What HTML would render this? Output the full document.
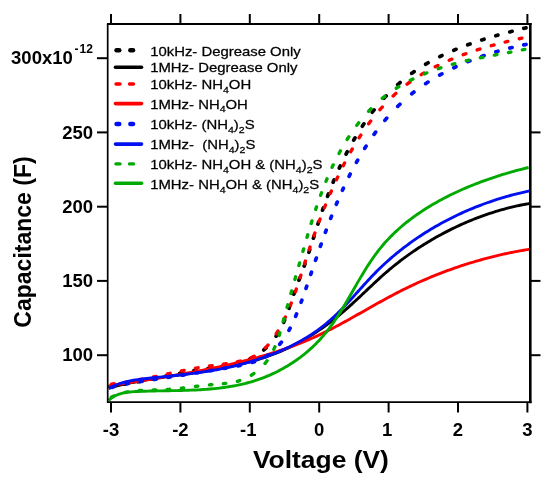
<!DOCTYPE html>
<html><head><meta charset="utf-8"><style>
html,body{margin:0;padding:0;background:#fff;}
svg{display:block;filter:blur(0.3px);}
text{font-family:"Liberation Sans",Arial,sans-serif;}
</style></head><body>
<svg width="550" height="486" viewBox="0 0 550 486">
<rect width="550" height="486" fill="#fff"/>
<g id="curves">
<path d="M109.93 386.31L110.75 386.20L111.57 386.09L112.19 386.01M123.96 384.24L124.77 384.11L125.57 383.97L126.17 383.87M137.92 381.76L138.71 381.61L139.50 381.46L140.10 381.34M151.90 378.99L152.69 378.83L153.47 378.67L154.26 378.51M165.82 376.12L166.61 375.96L167.39 375.80L168.17 375.64M179.78 373.30L180.57 373.15L181.37 373.00L182.16 372.84M193.91 370.68L194.71 370.54L195.51 370.40L196.12 370.30M207.89 368.46L208.71 368.34L209.53 368.23L210.15 368.14M221.85 366.43L222.66 366.30L223.48 366.16L224.09 366.06M235.92 363.64L236.70 363.44L237.48 363.23L238.26 363.02M249.87 358.86L250.59 358.53L251.30 358.18L252.00 357.83L252.18 357.74M263.80 349.96L264.40 349.44L264.99 348.91L265.58 348.38L266.17 347.84M276.10 336.17L276.55 335.50L276.98 334.83L277.42 334.15L277.63 333.81M283.66 322.21L283.98 321.46L284.30 320.72L284.62 319.97M289.03 308.27L289.30 307.49L289.57 306.71L289.84 305.93M293.85 294.22L294.12 293.44L294.40 292.67L294.68 291.89M298.99 280.19L299.27 279.42L299.56 278.66L299.85 277.90M304.17 266.12L304.44 265.37L304.71 264.61L304.98 263.85M308.90 252.26L309.15 251.50L309.40 250.74L309.64 249.98L309.71 249.79M313.42 238.19L313.66 237.43L313.90 236.67L314.15 235.91M317.91 224.10L318.16 223.34L318.41 222.58L318.65 221.81M322.54 210.18L322.81 209.42L323.07 208.65L323.34 207.89M327.56 196.25L327.85 195.49L328.14 194.73L328.43 193.97M333.11 182.20L333.43 181.45L333.74 180.69L334.06 179.94M339.26 168.13L339.60 167.39L339.95 166.65L340.29 165.90M346.06 154.14L346.44 153.42L346.81 152.69L347.19 151.97L347.29 151.79M353.68 140.17L354.09 139.47L354.50 138.76L354.92 138.06L355.02 137.89M362.34 126.19L362.79 125.52L363.24 124.84L363.69 124.17L363.91 123.84M372.28 112.23L372.77 111.59L373.26 110.96L373.76 110.32L374.13 109.85M383.97 98.24L384.51 97.65L385.05 97.07L385.60 96.48L386.14 95.90M397.70 84.62L398.29 84.09L398.89 83.56L399.49 83.04L400.09 82.52M411.67 73.35L412.32 72.88L412.98 72.41L413.63 71.95L414.13 71.61M425.65 64.22L426.35 63.81L427.05 63.41L427.75 63.00L428.10 62.80M439.78 56.61L440.51 56.25L441.24 55.90L441.98 55.54M453.75 50.26L454.51 49.94L455.27 49.63L456.03 49.31M467.73 44.79L468.50 44.51L469.28 44.23L470.05 43.95M481.73 40.01L482.51 39.76L483.29 39.51L484.07 39.26M495.80 35.75L496.58 35.52L497.36 35.30L497.94 35.14M509.79 31.92L510.56 31.72L511.33 31.52L512.10 31.32M523.75 28.41L524.51 28.23L525.26 28.04L526.02 27.86" fill="none" stroke="#000" stroke-width="3.7" stroke-linecap="round" stroke-linejoin="round"/>
<path d="M109.05 388.00 L111.05 387.45 L113.07 386.92 L115.09 386.40 L117.13 385.89 L119.17 385.40 L121.22 384.92 L123.29 384.45 L125.36 383.99 L127.44 383.54 L129.53 383.11 L131.63 382.68 L133.73 382.26 L135.84 381.85 L137.96 381.45 L140.09 381.06 L142.22 380.68 L144.36 380.30 L146.51 379.93 L148.66 379.57 L150.82 379.21 L152.98 378.86 L155.15 378.51 L157.32 378.17 L159.49 377.83 L161.67 377.50 L163.86 377.17 L166.04 376.84 L168.23 376.51 L170.43 376.19 L172.62 375.87 L174.82 375.55 L177.02 375.23 L179.22 374.91 L181.43 374.59 L183.63 374.26 L185.84 373.94 L188.04 373.62 L190.25 373.29 L192.45 372.96 L194.66 372.63 L196.86 372.30 L199.07 371.96 L201.27 371.62 L203.47 371.27 L205.67 370.91 L207.87 370.56 L210.06 370.19 L212.25 369.82 L214.44 369.44 L216.63 369.06 L218.81 368.67 L220.99 368.26 L223.17 367.85 L225.34 367.44 L227.50 367.01 L229.66 366.57 L231.82 366.12 L233.97 365.66 L236.11 365.19 L238.25 364.70 L240.38 364.21 L242.50 363.70 L244.62 363.18 L246.73 362.64 L248.83 362.09 L250.93 361.53 L253.01 360.95 L255.09 360.36 L257.16 359.75 L259.22 359.12 L261.27 358.48 L263.31 357.82 L265.34 357.14 L267.36 356.45 L269.38 355.73 L271.37 355.00 L273.36 354.25 L275.34 353.48 L277.31 352.69 L279.26 351.88 L281.21 351.06 L283.14 350.21 L285.06 349.35 L286.98 348.47 L288.88 347.57 L290.77 346.66 L292.65 345.73 L294.51 344.78 L296.37 343.82 L298.22 342.84 L300.05 341.84 L301.88 340.83 L303.69 339.80 L305.50 338.76 L307.29 337.70 L309.07 336.63 L310.84 335.54 L312.60 334.44 L314.35 333.33 L316.09 332.20 L317.82 331.05 L319.54 329.90 L321.24 328.73 L322.94 327.55 L324.62 326.35 L326.30 325.14 L327.96 323.92 L329.62 322.69 L331.26 321.45 L332.89 320.19 L334.51 318.92 L336.12 317.65 L337.72 316.36 L339.31 315.06 L340.89 313.75 L342.46 312.43 L344.02 311.10 L345.57 309.76 L347.11 308.41 L348.64 307.05 L350.16 305.69 L351.68 304.31 L353.18 302.93 L354.69 301.55 L356.19 300.16 L357.69 298.77 L359.18 297.37 L360.67 295.96 L362.16 294.56 L363.65 293.15 L365.14 291.74 L366.63 290.33 L368.12 288.92 L369.61 287.51 L371.11 286.10 L372.61 284.69 L374.12 283.28 L375.63 281.88 L377.15 280.47 L378.68 279.07 L380.21 277.68 L381.76 276.29 L383.31 274.91 L384.87 273.53 L386.45 272.16 L388.03 270.79 L389.63 269.44 L391.25 268.09 L392.87 266.75 L394.51 265.42 L396.17 264.10 L397.83 262.78 L399.51 261.48 L401.20 260.19 L402.91 258.90 L404.63 257.63 L406.36 256.36 L408.10 255.11 L409.85 253.86 L411.62 252.63 L413.39 251.41 L415.18 250.19 L416.98 248.99 L418.79 247.80 L420.61 246.62 L422.44 245.45 L424.28 244.29 L426.14 243.15 L428.00 242.01 L429.87 240.89 L431.75 239.78 L433.64 238.68 L435.54 237.60 L437.45 236.52 L439.37 235.46 L441.30 234.41 L443.23 233.38 L445.18 232.35 L447.13 231.35 L449.09 230.35 L451.06 229.37 L453.03 228.40 L455.01 227.44 L457.00 226.50 L459.00 225.57 L461.00 224.66 L463.02 223.76 L465.03 222.88 L467.06 222.01 L469.08 221.15 L471.12 220.32 L473.16 219.49 L475.21 218.68 L477.26 217.89 L479.32 217.11 L481.38 216.35 L483.44 215.60 L485.52 214.87 L487.59 214.15 L489.67 213.46 L491.76 212.77 L493.84 212.11 L495.94 211.46 L498.03 210.83 L500.13 210.21 L502.23 209.62 L504.34 209.04 L506.44 208.47 L508.55 207.93 L510.67 207.40 L512.78 206.89 L514.90 206.40 L517.01 205.93 L519.13 205.48 L521.26 205.04 L523.38 204.62 L525.50 204.22 L527.63 203.84 L529.75 203.48" fill="none" stroke="#000" stroke-width="2.9" stroke-linejoin="round"/>
<path d="M111.55 384.10L112.35 384.01L113.15 383.92L113.95 383.83L114.15 383.80M125.49 382.23L126.28 382.10L127.07 381.98L127.86 381.85L128.25 381.78M139.44 379.78L140.22 379.63L141.00 379.47L141.78 379.32L142.17 379.25M153.46 376.93L154.24 376.76L155.02 376.60L155.79 376.43L156.18 376.35M167.44 373.92L168.21 373.75L168.99 373.58L169.77 373.41L170.16 373.33M181.44 370.95L182.22 370.79L183.00 370.63L183.78 370.48L184.17 370.40M195.54 368.24L196.32 368.10L197.11 367.97L197.90 367.83L198.10 367.80M209.41 366.04L210.21 365.93L211.01 365.82L211.80 365.71L212.20 365.65M223.41 364.10L224.21 363.98L225.02 363.86L225.82 363.74L226.22 363.68M237.57 361.63L238.36 361.46L239.15 361.29L239.94 361.11L240.14 361.06M251.39 357.56L252.10 357.24L252.81 356.92L253.51 356.58L254.21 356.23M265.42 347.80L265.97 347.24L266.51 346.68L267.04 346.11L267.56 345.53L268.08 344.94M276.26 333.77L276.68 333.10L277.10 332.42L277.52 331.74L277.93 331.05M283.99 319.83L284.34 319.11L284.69 318.39L285.03 317.67L285.37 316.95M290.22 305.73L290.52 304.99L290.82 304.24L291.11 303.49L291.26 303.12M295.41 291.77L295.67 291.01L295.93 290.25L296.19 289.48L296.32 289.10M300.04 277.81L300.29 277.04L300.53 276.27L300.78 275.51L300.90 275.12M304.55 263.65L304.80 262.89L305.04 262.13L305.28 261.37L305.41 260.99M309.13 249.67L309.38 248.92L309.64 248.17L309.89 247.42L310.02 247.04M313.95 235.66L314.22 234.92L314.48 234.18L314.75 233.43L314.88 233.06M319.01 221.76L319.29 221.02L319.57 220.28L319.85 219.54L320.06 218.99M324.44 207.71L324.74 206.97L325.03 206.23L325.33 205.50L325.48 205.13M330.23 193.66L330.55 192.93L330.86 192.19L331.18 191.45L331.34 191.08M336.44 179.69L336.78 178.95L337.12 178.22L337.46 177.49L337.72 176.94M343.21 165.71L343.57 164.99L343.94 164.27L344.31 163.55L344.59 163.01M350.72 151.67L351.12 150.97L351.52 150.28L351.92 149.58L352.22 149.06M359.09 137.74L359.52 137.07L359.96 136.40L360.39 135.73L360.83 135.06M368.67 123.77L369.14 123.13L369.62 122.49L370.09 121.85L370.57 121.22L370.69 121.06M379.91 109.70L380.43 109.11L380.95 108.51L381.48 107.92L382.00 107.34L382.27 107.04M393.13 95.94L393.71 95.40L394.28 94.87L394.86 94.33L395.45 93.80L395.88 93.41M407.11 84.14L407.74 83.67L408.38 83.20L409.01 82.73L409.65 82.27L409.97 82.03M421.22 74.59L421.90 74.17L422.58 73.76L423.27 73.36L423.95 72.95M435.20 66.81L435.92 66.45L436.64 66.09L437.36 65.73L437.90 65.46M449.27 60.25L450.02 59.93L450.76 59.61L451.51 59.30L451.88 59.14M463.20 54.71L463.97 54.43L464.73 54.15L465.49 53.87L465.87 53.74M477.20 49.91L477.97 49.66L478.74 49.42L479.51 49.18L479.90 49.06M491.29 45.69L492.07 45.48L492.84 45.27L493.61 45.05L494.00 44.95M505.16 42.04L505.93 41.85L506.70 41.67L507.46 41.48L507.84 41.39M519.24 38.74L519.99 38.57L520.74 38.41L521.49 38.24L521.87 38.16" fill="none" stroke="#ff0000" stroke-width="3.4" stroke-linecap="round" stroke-linejoin="round"/>
<path d="M108.90 386.08 L110.88 385.75 L112.86 385.42 L114.85 385.09 L116.84 384.77 L118.83 384.44 L120.83 384.11 L122.83 383.79 L124.83 383.46 L126.83 383.14 L128.84 382.81 L130.85 382.49 L132.86 382.16 L134.87 381.84 L136.89 381.51 L138.90 381.19 L140.92 380.86 L142.94 380.54 L144.97 380.21 L146.99 379.89 L149.02 379.56 L151.05 379.23 L153.07 378.90 L155.10 378.57 L157.14 378.23 L159.17 377.90 L161.20 377.56 L163.24 377.23 L165.27 376.89 L167.31 376.55 L169.34 376.20 L171.38 375.86 L173.42 375.51 L175.45 375.16 L177.49 374.81 L179.53 374.45 L181.57 374.09 L183.60 373.73 L185.64 373.37 L187.68 373.00 L189.72 372.63 L191.75 372.26 L193.79 371.88 L195.82 371.50 L197.86 371.12 L199.89 370.73 L201.92 370.34 L203.95 369.94 L205.99 369.54 L208.01 369.14 L210.04 368.73 L212.07 368.31 L214.09 367.90 L216.12 367.47 L218.14 367.05 L220.16 366.61 L222.18 366.18 L224.19 365.73 L226.21 365.29 L228.22 364.83 L230.23 364.37 L232.24 363.91 L234.24 363.44 L236.24 362.96 L238.24 362.48 L240.24 361.99 L242.23 361.50 L244.22 360.99 L246.21 360.49 L248.20 359.97 L250.18 359.45 L252.16 358.92 L254.13 358.39 L256.10 357.85 L258.07 357.30 L260.04 356.74 L262.00 356.18 L263.95 355.61 L265.91 355.03 L267.86 354.44 L269.80 353.85 L271.74 353.24 L273.68 352.63 L275.61 352.01 L277.53 351.39 L279.46 350.75 L281.37 350.11 L283.29 349.45 L285.19 348.79 L287.10 348.12 L288.99 347.44 L290.89 346.75 L292.77 346.05 L294.66 345.34 L296.53 344.63 L298.40 343.90 L300.27 343.16 L302.13 342.41 L303.98 341.66 L305.83 340.89 L307.67 340.11 L309.50 339.33 L311.33 338.53 L313.16 337.72 L314.97 336.90 L316.78 336.07 L318.59 335.23 L320.38 334.38 L322.17 333.52 L323.96 332.65 L325.74 331.77 L327.52 330.89 L329.29 329.99 L331.06 329.09 L332.82 328.18 L334.58 327.26 L336.33 326.34 L338.09 325.41 L339.83 324.47 L341.58 323.53 L343.32 322.58 L345.06 321.63 L346.80 320.67 L348.54 319.71 L350.27 318.75 L352.01 317.78 L353.74 316.81 L355.47 315.83 L357.20 314.86 L358.94 313.88 L360.67 312.90 L362.40 311.92 L364.13 310.94 L365.86 309.95 L367.59 308.97 L369.33 307.99 L371.06 307.01 L372.80 306.03 L374.54 305.05 L376.28 304.07 L378.03 303.10 L379.77 302.12 L381.52 301.15 L383.28 300.19 L385.03 299.22 L386.80 298.27 L388.56 297.31 L390.33 296.36 L392.10 295.42 L393.88 294.48 L395.66 293.54 L397.45 292.61 L399.25 291.69 L401.05 290.78 L402.85 289.87 L404.67 288.97 L406.48 288.08 L408.31 287.20 L410.14 286.32 L411.98 285.45 L413.82 284.59 L415.67 283.74 L417.52 282.89 L419.38 282.05 L421.25 281.23 L423.12 280.40 L424.99 279.59 L426.88 278.79 L428.76 277.99 L430.65 277.20 L432.55 276.42 L434.45 275.65 L436.36 274.89 L438.27 274.13 L440.18 273.38 L442.10 272.65 L444.03 271.92 L445.96 271.19 L447.89 270.48 L449.83 269.78 L451.77 269.08 L453.71 268.40 L455.66 267.72 L457.61 267.05 L459.57 266.39 L461.53 265.74 L463.49 265.10 L465.46 264.46 L467.43 263.84 L469.40 263.23 L471.38 262.62 L473.36 262.02 L475.34 261.44 L477.33 260.86 L479.31 260.29 L481.30 259.73 L483.30 259.18 L485.29 258.64 L487.29 258.11 L489.29 257.59 L491.29 257.08 L493.30 256.58 L495.31 256.08 L497.31 255.60 L499.32 255.13 L501.34 254.66 L503.35 254.21 L505.37 253.77 L507.38 253.33 L509.40 252.91 L511.42 252.50 L513.44 252.09 L515.46 251.70 L517.49 251.32 L519.51 250.94 L521.53 250.58 L523.56 250.23 L525.59 249.89 L527.61 249.56 L529.64 249.24" fill="none" stroke="#ff0000" stroke-width="2.9" stroke-linejoin="round"/>
<path d="M112.14 387.23L112.85 386.96L113.56 386.70L114.29 386.46M126.22 383.89L126.99 383.76L127.77 383.63L128.36 383.53M140.16 381.62L140.95 381.49L141.75 381.37L142.34 381.28M154.06 379.48L154.86 379.35L155.65 379.23L156.25 379.14M168.12 377.35L168.91 377.23L169.69 377.11L170.28 377.02M182.18 375.20L182.96 375.08L183.73 374.96L184.32 374.87M196.13 373.00L196.91 372.88L197.68 372.76L198.26 372.66M210.12 370.73L210.90 370.60L211.68 370.47L212.27 370.37M224.08 368.36L224.87 368.22L225.67 368.08L226.26 367.98M238.11 365.82L238.91 365.67L239.71 365.50L240.31 365.38M252.11 362.41L252.88 362.18L253.64 361.93L254.39 361.68M266.09 356.37L266.75 355.96L267.39 355.55L268.03 355.13L268.35 354.91M279.72 344.28L280.22 343.67L280.71 343.05L281.19 342.43L281.43 342.12M288.96 330.28L289.35 329.57L289.73 328.85L290.10 328.12M295.63 316.28L295.94 315.53L296.26 314.78L296.57 314.04M301.14 302.23L301.41 301.48L301.68 300.73L301.88 300.17M305.99 288.38L306.25 287.63L306.50 286.89L306.76 286.14M310.74 274.40L310.99 273.65L311.24 272.91L311.49 272.16M315.53 260.26L315.79 259.52L316.04 258.78L316.30 258.03M320.36 246.33L320.62 245.58L320.88 244.84L321.15 244.10M325.37 232.38L325.64 231.63L325.92 230.89L326.20 230.14M330.65 218.41L330.94 217.66L331.24 216.92L331.53 216.17M336.35 204.29L336.66 203.55L336.97 202.81L337.28 202.07M342.44 190.31L342.77 189.58L343.11 188.85L343.44 188.12M349.07 176.36L349.43 175.65L349.79 174.93L350.15 174.22L350.24 174.04M356.42 162.38L356.81 161.68L357.20 160.99L357.59 160.29L357.69 160.12M364.70 148.32L365.12 147.65L365.54 146.98L365.97 146.31L366.07 146.14M374.04 134.35L374.50 133.71L374.96 133.07L375.43 132.43L375.66 132.11M384.87 120.35L385.38 119.75L385.89 119.15L386.40 118.56L386.78 118.11M397.73 106.35L398.29 105.80L398.85 105.26L399.41 104.71L399.98 104.17M411.77 93.78L412.39 93.29L413.01 92.80L413.63 92.31L413.94 92.06M425.68 83.61L426.34 83.17L427.01 82.73L427.68 82.30L428.01 82.08M439.67 75.08L440.38 74.69L441.08 74.30L441.78 73.91L441.96 73.82M453.80 67.79L454.53 67.45L455.26 67.11L455.99 66.77M467.83 61.62L468.58 61.32L469.33 61.02L469.89 60.80M481.78 56.38L482.54 56.12L483.30 55.86L484.06 55.60M495.86 51.86L496.63 51.63L497.39 51.41L497.96 51.25M509.77 48.08L510.53 47.89L511.29 47.71L512.05 47.52M523.75 44.92L524.50 44.77L525.25 44.62L526.00 44.47" fill="none" stroke="#0010f0" stroke-width="3.7" stroke-linecap="round" stroke-linejoin="round"/>
<path d="M108.82 388.65 L110.68 387.55 L112.58 386.54 L114.52 385.61 L116.51 384.77 L118.52 383.99 L120.57 383.29 L122.65 382.65 L124.76 382.07 L126.89 381.55 L129.04 381.07 L131.21 380.64 L133.40 380.26 L135.60 379.90 L137.81 379.58 L140.03 379.28 L142.26 379.01 L144.48 378.74 L146.71 378.49 L148.94 378.25 L151.16 378.01 L153.38 377.77 L155.59 377.54 L157.80 377.31 L160.01 377.08 L162.21 376.85 L164.42 376.62 L166.61 376.39 L168.81 376.16 L171.00 375.92 L173.20 375.69 L175.39 375.45 L177.57 375.21 L179.76 374.97 L181.94 374.72 L184.12 374.47 L186.30 374.21 L188.48 373.95 L190.66 373.68 L192.84 373.40 L195.01 373.11 L197.19 372.82 L199.36 372.52 L201.54 372.21 L203.71 371.88 L205.88 371.55 L208.06 371.21 L210.23 370.86 L212.41 370.49 L214.58 370.11 L216.76 369.72 L218.93 369.31 L221.11 368.89 L223.29 368.45 L225.46 368.00 L227.64 367.54 L229.82 367.06 L232.00 366.56 L234.17 366.05 L236.34 365.52 L238.51 364.98 L240.68 364.43 L242.84 363.85 L245.00 363.27 L247.16 362.66 L249.31 362.04 L251.46 361.41 L253.60 360.76 L255.73 360.09 L257.86 359.41 L259.98 358.71 L262.09 358.00 L264.20 357.27 L266.30 356.52 L268.38 355.76 L270.46 354.98 L272.53 354.18 L274.59 353.37 L276.64 352.54 L278.68 351.69 L280.70 350.83 L282.72 349.95 L284.72 349.05 L286.71 348.14 L288.68 347.20 L290.64 346.26 L292.59 345.29 L294.52 344.31 L296.44 343.31 L298.34 342.29 L300.22 341.25 L302.09 340.20 L303.94 339.12 L305.78 338.04 L307.60 336.93 L309.39 335.80 L311.17 334.66 L312.93 333.50 L314.67 332.32 L316.39 331.12 L318.09 329.90 L319.77 328.67 L321.43 327.41 L323.06 326.14 L324.68 324.85 L326.27 323.54 L327.84 322.22 L329.40 320.88 L330.93 319.53 L332.45 318.16 L333.95 316.78 L335.43 315.38 L336.90 313.98 L338.35 312.56 L339.79 311.13 L341.21 309.69 L342.62 308.24 L344.03 306.77 L345.42 305.30 L346.82 303.81 L348.21 302.31 L349.60 300.79 L351.00 299.26 L352.39 297.72 L353.80 296.16 L355.21 294.60 L356.62 293.02 L358.04 291.44 L359.47 289.85 L360.90 288.26 L362.34 286.66 L363.79 285.06 L365.25 283.46 L366.72 281.86 L368.19 280.27 L369.68 278.67 L371.18 277.09 L372.69 275.50 L374.21 273.93 L375.75 272.37 L377.29 270.81 L378.85 269.27 L380.43 267.75 L382.01 266.23 L383.61 264.73 L385.23 263.24 L386.85 261.76 L388.49 260.30 L390.14 258.85 L391.80 257.41 L393.48 255.98 L395.17 254.57 L396.86 253.17 L398.58 251.79 L400.30 250.41 L402.03 249.05 L403.77 247.71 L405.53 246.37 L407.30 245.05 L409.07 243.75 L410.86 242.45 L412.66 241.17 L414.47 239.91 L416.29 238.65 L418.11 237.41 L419.95 236.19 L421.80 234.97 L423.66 233.77 L425.52 232.59 L427.40 231.41 L429.29 230.26 L431.18 229.11 L433.08 227.98 L434.99 226.86 L436.91 225.76 L438.84 224.67 L440.78 223.59 L442.72 222.53 L444.67 221.48 L446.63 220.45 L448.60 219.43 L450.57 218.42 L452.56 217.43 L454.54 216.45 L456.54 215.49 L458.54 214.54 L460.55 213.60 L462.57 212.68 L464.59 211.77 L466.62 210.88 L468.65 210.00 L470.69 209.14 L472.73 208.29 L474.78 207.45 L476.84 206.63 L478.90 205.83 L480.97 205.03 L483.04 204.26 L485.11 203.50 L487.20 202.75 L489.28 202.01 L491.37 201.30 L493.46 200.59 L495.56 199.90 L497.66 199.23 L499.77 198.57 L501.87 197.93 L503.99 197.30 L506.10 196.68 L508.22 196.09 L510.34 195.50 L512.46 194.93 L514.59 194.38 L516.72 193.84 L518.85 193.32 L520.98 192.81 L523.12 192.32 L525.25 191.84 L527.39 191.38 L529.53 190.93" fill="none" stroke="#0010f0" stroke-width="2.9" stroke-linejoin="round"/>
<path d="M111.33 397.34L112.02 396.94L112.71 396.57L113.42 396.21L113.77 396.04M125.28 392.37L126.06 392.21L126.85 392.06L127.65 391.91L127.85 391.88M139.25 390.56L140.08 390.51L140.91 390.46L141.74 390.41M153.29 390.02L154.13 390.00L154.97 389.98L155.81 389.95M167.28 389.48L168.10 389.42L168.93 389.37L169.75 389.30M181.33 388.16L182.14 388.07L182.94 387.97L183.75 387.87M195.42 386.41L196.22 386.31L197.03 386.21L197.84 386.11M209.43 384.84L210.25 384.77L211.08 384.69L211.90 384.62M223.32 383.68L224.15 383.59L224.98 383.50L225.80 383.41M237.38 381.27L238.17 381.04L238.96 380.80L239.74 380.55M251.29 375.19L251.99 374.75L252.68 374.30L253.37 373.85L253.88 373.50M265.05 363.35L265.56 362.73L266.07 362.10L266.56 361.46L267.05 360.82M273.78 349.38L274.12 348.65L274.46 347.90L274.79 347.16L274.95 346.79M279.12 335.41L279.37 334.62L279.62 333.83L279.86 333.03L279.92 332.83M283.17 321.40L283.39 320.60L283.61 319.79L283.83 318.99L283.89 318.79M287.04 307.38L287.26 306.58L287.48 305.78L287.71 304.99L287.76 304.79M290.93 293.46L291.15 292.67L291.38 291.87L291.60 291.08L291.66 290.88M294.90 279.42L295.12 278.63L295.35 277.84L295.57 277.05L295.63 276.86M298.89 265.44L299.11 264.65L299.34 263.86L299.56 263.08L299.62 262.88M302.96 251.28L303.18 250.50L303.41 249.71L303.64 248.93M307.01 237.34L307.24 236.56L307.47 235.77L307.70 234.99L307.76 234.79M311.19 223.43L311.43 222.65L311.67 221.87L311.91 221.09L311.97 220.89M315.67 209.40L315.93 208.62L316.19 207.85L316.45 207.07L316.51 206.88M320.58 195.28L320.86 194.51L321.15 193.74L321.43 192.97L321.50 192.78M325.98 181.31L326.30 180.55L326.61 179.79L326.93 179.03L327.01 178.84M332.09 167.34L332.44 166.59L332.79 165.85L333.15 165.10L333.23 164.91M339.04 153.44L339.43 152.71L339.83 151.98L340.22 151.25L340.42 150.89M347.15 139.44L347.59 138.74L348.04 138.04L348.48 137.35L348.82 136.82M356.85 125.31L357.34 124.65L357.84 124.00L358.34 123.34L358.72 122.86M368.54 111.32L369.10 110.73L369.66 110.13L370.22 109.55L370.79 108.96L370.93 108.81M382.29 98.36L382.92 97.84L383.55 97.33L384.19 96.83L384.82 96.32M396.27 88.24L396.96 87.81L397.65 87.38L398.35 86.95L398.87 86.63M410.31 80.28L411.04 79.92L411.78 79.55L412.52 79.19L412.88 79.01M424.36 73.88L425.12 73.57L425.89 73.26L426.65 72.95L426.85 72.88M438.32 68.68L439.10 68.42L439.89 68.15L440.68 67.90L440.88 67.83M452.38 64.36L453.18 64.14L453.98 63.92L454.77 63.70M466.37 60.78L467.17 60.60L467.97 60.41L468.77 60.23M480.36 57.77L481.16 57.61L481.96 57.46L482.76 57.30L482.96 57.26M494.36 55.11L495.16 54.97L495.96 54.82L496.77 54.67L496.97 54.64M508.42 52.55L509.23 52.40L510.03 52.25L510.84 52.10M522.40 49.88L523.21 49.71L524.03 49.55L524.84 49.38" fill="none" stroke="#00aa00" stroke-width="3.4" stroke-linecap="round" stroke-linejoin="round"/>
<path d="M108.67 400.48 L110.38 398.86 L112.21 397.48 L114.13 396.31 L116.13 395.32 L118.19 394.48 L120.30 393.78 L122.46 393.20 L124.66 392.73 L126.90 392.36 L129.17 392.06 L131.47 391.84 L133.79 391.67 L136.12 391.53 L138.47 391.43 L140.82 391.34 L143.18 391.26 L145.55 391.19 L147.92 391.13 L150.29 391.07 L152.67 391.01 L155.05 390.97 L157.44 390.92 L159.83 390.88 L162.22 390.84 L164.61 390.80 L167.01 390.76 L169.40 390.72 L171.80 390.67 L174.20 390.63 L176.59 390.58 L178.99 390.53 L181.39 390.47 L183.79 390.40 L186.18 390.33 L188.58 390.25 L190.97 390.16 L193.36 390.06 L195.75 389.95 L198.13 389.83 L200.52 389.70 L202.89 389.55 L205.27 389.39 L207.64 389.21 L210.00 389.02 L212.37 388.81 L214.72 388.58 L217.07 388.33 L219.41 388.07 L221.75 387.78 L224.08 387.47 L226.41 387.14 L228.72 386.79 L231.03 386.41 L233.33 386.01 L235.62 385.58 L237.90 385.13 L240.18 384.64 L242.44 384.13 L244.69 383.59 L246.94 383.02 L249.17 382.42 L251.39 381.78 L253.60 381.12 L255.80 380.42 L257.99 379.69 L260.16 378.92 L262.32 378.13 L264.47 377.30 L266.60 376.44 L268.72 375.55 L270.82 374.64 L272.91 373.69 L274.98 372.71 L277.04 371.70 L279.08 370.66 L281.10 369.59 L283.11 368.49 L285.09 367.36 L287.06 366.20 L289.01 365.02 L290.94 363.80 L292.85 362.56 L294.75 361.29 L296.62 359.99 L298.47 358.66 L300.29 357.31 L302.10 355.93 L303.88 354.52 L305.65 353.09 L307.38 351.63 L309.10 350.14 L310.79 348.63 L312.46 347.09 L314.10 345.53 L315.71 343.94 L317.31 342.33 L318.87 340.69 L320.41 339.03 L321.92 337.34 L323.40 335.63 L324.86 333.89 L326.29 332.13 L327.69 330.35 L329.07 328.55 L330.43 326.73 L331.77 324.89 L333.08 323.04 L334.38 321.16 L335.66 319.27 L336.92 317.37 L338.17 315.45 L339.40 313.52 L340.62 311.58 L341.83 309.62 L343.02 307.66 L344.21 305.68 L345.39 303.70 L346.56 301.71 L347.72 299.72 L348.88 297.72 L350.04 295.71 L351.19 293.70 L352.34 291.69 L353.50 289.68 L354.65 287.67 L355.80 285.66 L356.96 283.65 L358.13 281.64 L359.30 279.64 L360.47 277.64 L361.66 275.65 L362.85 273.66 L364.06 271.68 L365.27 269.71 L366.50 267.75 L367.75 265.80 L369.01 263.86 L370.28 261.93 L371.58 260.02 L372.89 258.12 L374.22 256.23 L375.58 254.37 L376.95 252.52 L378.35 250.68 L379.78 248.87 L381.23 247.08 L382.71 245.30 L384.22 243.55 L385.75 241.82 L387.31 240.12 L388.90 238.43 L390.51 236.77 L392.15 235.12 L393.81 233.50 L395.50 231.90 L397.21 230.32 L398.94 228.76 L400.70 227.22 L402.48 225.70 L404.27 224.20 L406.09 222.72 L407.94 221.26 L409.80 219.83 L411.67 218.41 L413.57 217.01 L415.49 215.63 L417.42 214.27 L419.37 212.93 L421.34 211.61 L423.32 210.30 L425.32 209.02 L427.33 207.76 L429.36 206.51 L431.40 205.29 L433.46 204.08 L435.53 202.89 L437.60 201.72 L439.69 200.56 L441.80 199.43 L443.91 198.31 L446.03 197.21 L448.16 196.13 L450.30 195.06 L452.45 194.02 L454.61 192.99 L456.77 191.98 L458.94 190.98 L461.12 190.00 L463.30 189.04 L465.48 188.10 L467.68 187.17 L469.87 186.26 L472.07 185.36 L474.27 184.48 L476.47 183.62 L478.68 182.78 L480.89 181.94 L483.09 181.13 L485.30 180.33 L487.51 179.55 L489.71 178.78 L491.91 178.03 L494.12 177.29 L496.32 176.57 L498.51 175.86 L500.70 175.17 L502.89 174.49 L505.07 173.82 L507.25 173.18 L509.42 172.54 L511.59 171.92 L513.75 171.31 L515.90 170.72 L518.04 170.14 L520.17 169.58 L522.30 169.03 L524.41 168.49 L526.52 167.97 L528.61 167.46" fill="none" stroke="#00aa00" stroke-width="2.9" stroke-linejoin="round"/>
</g>
<g stroke="#000" stroke-width="2" fill="none">
<path d="M107.7 402.2 V24" stroke-width="1.7"/>
<path d="M106.9 24 H531.6" stroke-width="2"/>
<path d="M530.3 23 V403.2" stroke-width="2.6"/>
<path d="M106.9 402.2 H531.6" stroke-width="1.8"/>
<line x1="111.0" y1="14" x2="111.0" y2="24" />
<line x1="111.0" y1="402" x2="111.0" y2="412.5" />
<line x1="180.4" y1="14" x2="180.4" y2="24" />
<line x1="180.4" y1="402" x2="180.4" y2="412.5" />
<line x1="249.8" y1="14" x2="249.8" y2="24" />
<line x1="249.8" y1="402" x2="249.8" y2="412.5" />
<line x1="319.2" y1="14" x2="319.2" y2="24" />
<line x1="319.2" y1="402" x2="319.2" y2="412.5" />
<line x1="388.6" y1="14" x2="388.6" y2="24" />
<line x1="388.6" y1="402" x2="388.6" y2="412.5" />
<line x1="458.0" y1="14" x2="458.0" y2="24" />
<line x1="458.0" y1="402" x2="458.0" y2="412.5" />
<line x1="527.4" y1="14" x2="527.4" y2="24" />
<line x1="527.4" y1="402" x2="527.4" y2="412.5" />
<line x1="97" y1="355.2" x2="108" y2="355.2" />
<line x1="530" y1="355.2" x2="540.5" y2="355.2" />
<line x1="97" y1="280.9" x2="108" y2="280.9" />
<line x1="530" y1="280.9" x2="540.5" y2="280.9" />
<line x1="97" y1="206.7" x2="108" y2="206.7" />
<line x1="530" y1="206.7" x2="540.5" y2="206.7" />
<line x1="97" y1="132.4" x2="108" y2="132.4" />
<line x1="530" y1="132.4" x2="540.5" y2="132.4" />
<line x1="97" y1="58.2" x2="108" y2="58.2" />
<line x1="530" y1="58.2" x2="540.5" y2="58.2" />
</g>
<g fill="#000" font-weight="bold" font-size="18.5">
<text x="111.0" y="435.5" text-anchor="middle">-3</text><text x="180.4" y="435.5" text-anchor="middle">-2</text><text x="248.3" y="435.5" text-anchor="middle">-1</text><text x="319.2" y="435.5" text-anchor="middle">0</text><text x="387.1" y="435.5" text-anchor="middle">1</text><text x="458.0" y="435.5" text-anchor="middle">2</text><text x="527.4" y="435.5" text-anchor="middle">3</text>
<text x="93" y="361.3" text-anchor="end">100</text><text x="93" y="287.1" text-anchor="end">150</text><text x="93" y="212.8" text-anchor="end">200</text><text x="93" y="138.5" text-anchor="end">250</text>
<text x="72.8" y="64.3" text-anchor="end">300x10</text>
<text x="74.4" y="52.8" font-size="12">-</text><text x="79.6" y="52.8" font-size="12">12</text>
</g>
<line x1="116.6" y1="50.3" x2="119.2" y2="50.3" stroke="#000" stroke-width="4.6" stroke-linecap="round"/>
<line x1="130.4" y1="50.3" x2="133.0" y2="50.3" stroke="#000" stroke-width="4.6" stroke-linecap="round"/>
<line x1="115.5" y1="67.2" x2="141.5" y2="67.2" stroke="#000" stroke-width="3.6" stroke-linecap="round"/>
<line x1="116.0" y1="84.0" x2="120.0" y2="84.0" stroke="#ff0000" stroke-width="3.4" stroke-linecap="round"/>
<line x1="129.5" y1="84.0" x2="133.5" y2="84.0" stroke="#ff0000" stroke-width="3.4" stroke-linecap="round"/>
<line x1="115.5" y1="103.6" x2="141.5" y2="103.6" stroke="#ff0000" stroke-width="3.6" stroke-linecap="round"/>
<line x1="116.6" y1="124.0" x2="119.2" y2="124.0" stroke="#0010f0" stroke-width="4.6" stroke-linecap="round"/>
<line x1="130.4" y1="124.0" x2="133.0" y2="124.0" stroke="#0010f0" stroke-width="4.6" stroke-linecap="round"/>
<line x1="115.5" y1="144.1" x2="141.5" y2="144.1" stroke="#0010f0" stroke-width="3.6" stroke-linecap="round"/>
<line x1="116.0" y1="163.9" x2="120.0" y2="163.9" stroke="#00aa00" stroke-width="3.4" stroke-linecap="round"/>
<line x1="129.5" y1="163.9" x2="133.5" y2="163.9" stroke="#00aa00" stroke-width="3.4" stroke-linecap="round"/>
<line x1="115.5" y1="183.2" x2="141.5" y2="183.2" stroke="#00aa00" stroke-width="3.6" stroke-linecap="round"/>
<g font-size="13.2" fill="#000" stroke="#000" stroke-width="0.25" transform="translate(150.2,0) scale(1.128,1) translate(-150.2,0)">
<text x="150.2" y="56.3" xml:space="preserve">10kHz- Degrease Only</text>
<text x="150.2" y="71.7" xml:space="preserve">1MHz- Degrease Only</text>
<text x="150.2" y="89.5" xml:space="preserve">10kHz- NH<tspan baseline-shift="-3.8" font-size="9.4">4</tspan>OH</text>
<text x="150.2" y="108.7" xml:space="preserve">1MHz- NH<tspan baseline-shift="-3.8" font-size="9.4">4</tspan>OH</text>
<text x="150.2" y="129.4" xml:space="preserve">10kHz- (NH<tspan baseline-shift="-3.8" font-size="9.4">4</tspan>)<tspan baseline-shift="-3.8" font-size="9.4">2</tspan>S</text>
<text x="150.2" y="149.5" xml:space="preserve">1MHz-  (NH<tspan baseline-shift="-3.8" font-size="9.4">4</tspan>)<tspan baseline-shift="-3.8" font-size="9.4">2</tspan>S</text>
<text x="150.2" y="169.3" xml:space="preserve">10kHz- NH<tspan baseline-shift="-3.8" font-size="9.4">4</tspan>OH &amp; (NH<tspan baseline-shift="-3.8" font-size="9.4">4</tspan>)<tspan baseline-shift="-3.8" font-size="9.4">2</tspan>S</text>
<text x="150.2" y="189.5" xml:space="preserve">1MHz- NH<tspan baseline-shift="-3.8" font-size="9.4">4</tspan>OH &amp; (NH<tspan baseline-shift="-3.8" font-size="9.4">4</tspan>)<tspan baseline-shift="-3.8" font-size="9.4">2</tspan>S</text>
</g>
<text x="320.9" y="467.7" text-anchor="middle" font-weight="bold" font-size="24" transform="translate(320.9,0) scale(1.1,1) translate(-320.9,0)">Voltage (V)</text>
<text transform="translate(31.2,242) rotate(-90)" text-anchor="middle" font-weight="bold" font-size="23">Capacitance (F)</text>
</svg>
</body></html>
